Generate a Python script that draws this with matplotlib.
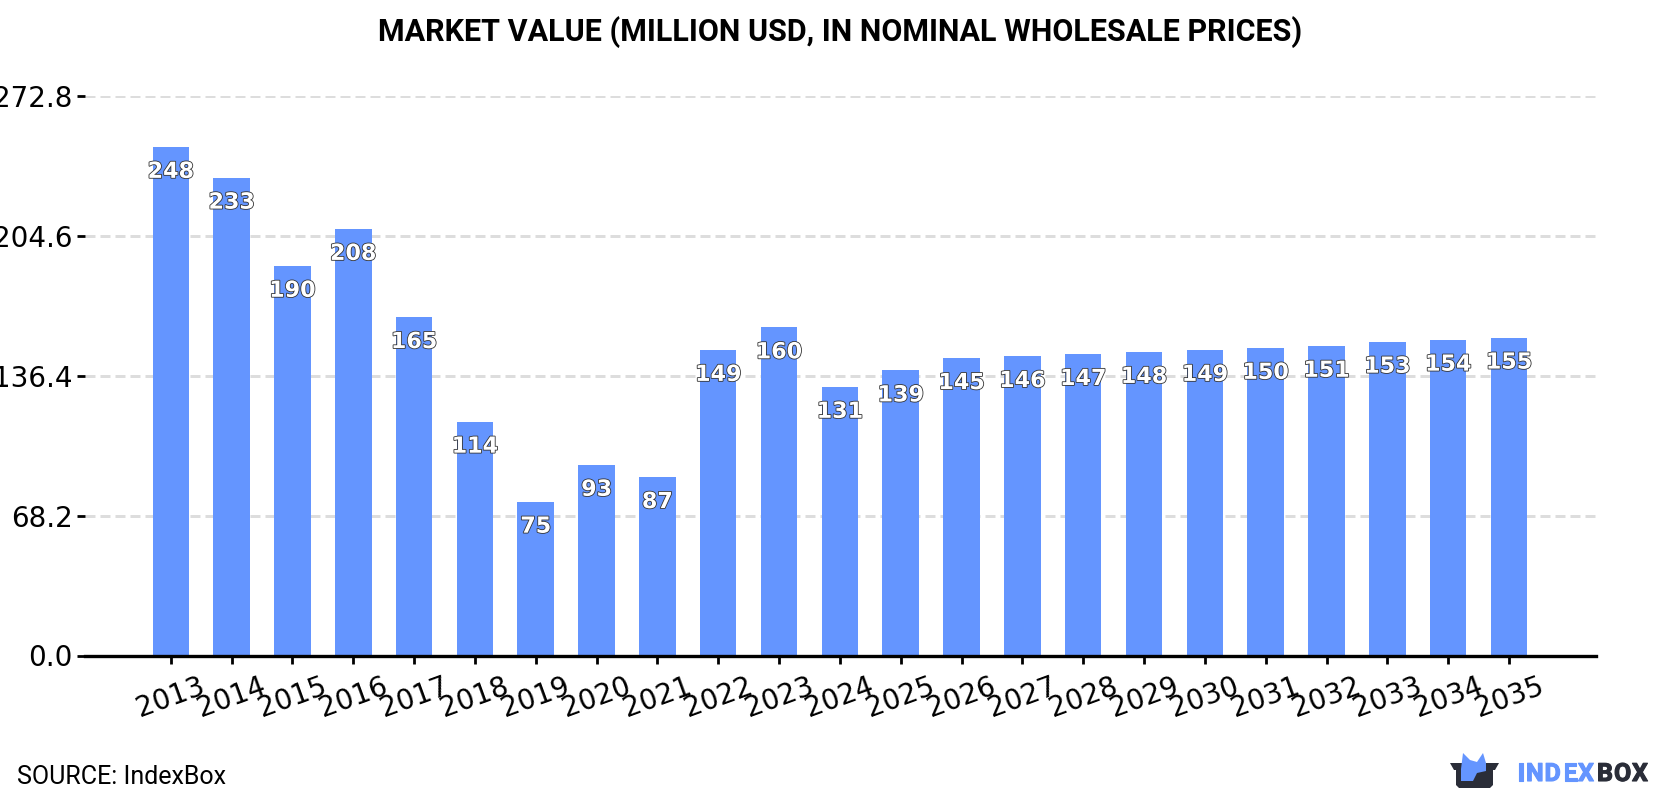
import matplotlib
matplotlib.use("Agg")
import matplotlib.pyplot as plt
import matplotlib.patheffects as pe
from matplotlib.patches import Polygon

years = [str(y) for y in range(2013, 2036)]
values = [248, 233, 190, 208, 165, 114, 75, 93, 87, 149, 160, 131, 139,
          145, 146, 147, 148, 149, 150, 151, 153, 154, 155]
y_ticks = [0.0, 68.2, 136.4, 204.6, 272.8]

BAR = "#6495ff"
DARK = "#2a2d38"
W, H = 1680, 800


def px(x, y):
    """Convert top-left based pixel coordinates to figure fractions."""
    return x / W, 1 - y / H


fig = plt.figure(figsize=(W / 100, H / 100), dpi=100, facecolor="white")
ax = fig.add_axes([85 / W, 1 - 655.5 / H, (1596 - 85) / W, (655.5 - 96) / H])

positions = list(range(len(years)))
ax.bar(positions, values, width=0.6, color=BAR, zorder=2)
ax.set_xlim(-1.41, 22 + 1.43)
ax.set_ylim(0, 272.8)

ax.set_yticks(y_ticks)
ax.set_yticklabels([f"{t:.1f}" for t in y_ticks])
ax.set_xticks(positions)
ax.set_xticklabels(years, rotation=20, ha="center")
ax.tick_params(axis="both", labelsize=20, length=5.8, width=2, colors="black", pad=6)
ax.tick_params(axis="y", pad=3)
ax.yaxis.grid(True, color="#dddddd", linewidth=2.16,
              linestyle=(0, (3.33, 1.67)), zorder=1)
ax.set_axisbelow(True)
for side in ("left", "right", "top"):
    ax.spines[side].set_visible(False)
ax.spines["bottom"].set_linewidth(2.4)
ax.spines["bottom"].set_color("black")

# Value labels sit just inside the top of each bar.
for pos, val in zip(positions, values):
    ax.annotate(str(val), (pos, val), xytext=(0, -18), textcoords="offset points",
                ha="center", va="center", fontsize=16, fontweight="bold",
                color="white", zorder=4, annotation_clip=False,
                path_effects=[pe.withStroke(linewidth=1.2, foreground="#333333")])

fig.text(*px(840, 32), "MARKET VALUE (MILLION USD, IN NOMINAL WHOLESALE PRICES)",
         family="Roboto", fontweight="bold", fontsize=22, ha="center", va="center",
         color="black")
fig.text(*px(17, 777.5), "SOURCE: IndexBox", family="Roboto", fontsize=18,
         ha="left", va="center", color="black")

# Brand mark: open box with a blue shape rising from it.
blue_shape = [(1461, 769), (1463, 753), (1470, 760), (1477, 762), (1483, 753),
              (1486, 763), (1486, 771), (1477, 773), (1473, 781), (1461, 781)]
box_shape = [(1450, 763), (1499, 763), (1495, 770), (1493, 770), (1493, 785),
             (1490, 788), (1459, 788), (1456, 785), (1456, 770), (1454, 770)]
fig.add_artist(Polygon([px(*p) for p in box_shape], closed=True, facecolor=DARK,
                       edgecolor="none", transform=fig.transFigure))
fig.add_artist(Polygon([px(*p) for p in blue_shape], closed=True, facecolor=BAR,
                       edgecolor="none", transform=fig.transFigure))

# The wordmark is widely tracked and heavy, so each letter is placed and thickened on its own.
wordmark = [("I", 1517.5, BAR), ("N", 1526, BAR), ("D", 1544.5, BAR), ("E", 1563, BAR),
            ("X", 1578, BAR), ("B", 1597, DARK), ("O", 1614, DARK), ("X", 1632, DARK)]
for letter, x, color in wordmark:
    fig.text(*px(x, 774), letter, family="Roboto", fontweight="bold", fontsize=18,
             color=color, ha="left", va="center",
             path_effects=[pe.withStroke(linewidth=0.8, foreground=color)])

fig.savefig("out.png", dpi=100, facecolor="white")
